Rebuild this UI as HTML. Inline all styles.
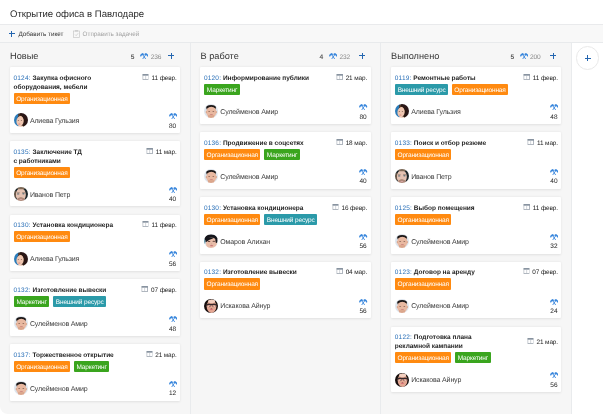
<!DOCTYPE html>
<html lang="ru"><head><meta charset="utf-8"><title>Открытие офиса в Павлодаре</title>
<style>
*{box-sizing:border-box;margin:0;padding:0}
html,body{width:603px;height:415px;overflow:hidden;background:#fff;font-family:"Liberation Sans",sans-serif;color:#222}
#app{will-change:transform;text-rendering:geometricPrecision;position:absolute;left:0;top:0;width:603px;height:414px;overflow:hidden;border-radius:0 0 0 8px}
.ttl{position:absolute;left:10px;top:7.8px;font-size:9.55px;line-height:13px;color:#2a2a2a;white-space:nowrap}
.bar{position:absolute;left:0;top:24px;width:603px;height:18.5px;background:#f8f8f8;border-top:1px solid #e9eaec;border-bottom:1px solid #e8eaec}
.bar span{position:absolute;top:0.7px;line-height:17px;font-size:6.3px;white-space:nowrap}
.plus{position:absolute;width:6.2px;height:6.2px}
.plus:before,.plus:after{content:"";position:absolute;background:#2466b0}
.plus:before{left:0;top:2.5px;width:6.2px;height:1.2px}
.plus:after{left:2.5px;top:0;width:1.2px;height:6.2px}
.col{position:absolute;top:42.5px;height:380px;width:190.5px;background:#f6f6f6;border-right:1px solid #e9ebed}
.ch{position:absolute;left:10px;top:7.9px;font-size:9.2px;line-height:12px;color:#333;white-space:nowrap}
.cn{position:absolute;top:10px;font-size:6.6px;letter-spacing:-0.25px;line-height:10px;color:#5c5c5c;white-space:nowrap;font-weight:bold}
.cp{position:absolute;top:10px;font-size:6.6px;letter-spacing:-0.25px;line-height:10px;color:#8a8a8a;white-space:nowrap}
.card{position:absolute;left:9.9px;width:170.3px;background:#fff;border-radius:1px;box-shadow:0 0.8px 2.5px rgba(0,0,0,.09)}
.t{position:absolute;left:3.6px;top:6.8px;font-size:6.5px;line-height:9px;font-weight:bold;color:#1e1e1e;white-space:nowrap;letter-spacing:-0.02px}
.t a{color:#2a70b8;font-weight:normal;text-decoration:none;letter-spacing:0.2px}
.d{position:absolute;right:3.5px;top:7.75px;font-size:6.4px;letter-spacing:-0.1px;line-height:8.8px;color:#222;white-space:nowrap}
.cal{display:inline-block;width:6.5px;height:5.9px;vertical-align:-0.5px;margin-right:3.1px;transform:translate(0.4px,-0.9px)}
.tags{position:absolute;left:4px;height:11.2px;white-space:nowrap}
.tag{position:absolute;top:0;height:11.2px;border-radius:1px;color:#fff;font-size:6.5px;letter-spacing:-0.15px;line-height:14.3px;text-align:center;white-space:nowrap;overflow:hidden}
.av{position:absolute;left:3.9px;width:14.2px;height:14.2px;border-radius:50%;overflow:hidden}
.n{position:absolute;left:20px;font-size:7px;letter-spacing:-0.14px;line-height:10px;color:#3a3a3a;white-space:nowrap}
.pi{position:absolute;right:3.1px;width:8.4px;height:6px}
.p{position:absolute;right:1.1px;width:13px;text-align:center;font-size:6.5px;line-height:8px;color:#222}
.circ{position:absolute;left:575.9px;top:46.4px;width:23.6px;height:23.6px;border-radius:50%;border:1px solid #e9e9e9;background:#fff}
</style></head><body><svg width="0" height="0" style="position:absolute"><defs><filter id="bl" x="-10%" y="-10%" width="120%" height="120%"><feGaussianBlur stdDeviation="0.7"/></filter></defs></svg><div id="app">
<div class="ttl">Открытие офиса в Павлодаре</div>
<div class="bar"><i class="plus" style="left:8.8px;top:5.6px"></i><span style="left:18.5px;color:#333">Добавить тикет</span>
<svg style="position:absolute;left:72.5px;top:4.5px;width:7px;height:8px" viewBox="0 0 14 16"><rect x="1" y="2" width="12" height="13" fill="none" stroke="#c8c8c8" stroke-width="1.4"/><rect x="4" y="0.5" width="6" height="2.5" fill="#c8c8c8"/><path d="M4 9 L6.3 11.3 L10.3 6.5" fill="none" stroke="#c4c4c4" stroke-width="1.3"/></svg>
<span style="left:82.6px;color:#a2a2a2">Отправить задачей</span></div>

<div class="col" style="left:0px"><div class="ch">Новые</div>
<span class="cn" style="left:130.7px">5</span><svg class="pi" style="left:139.9px;top:10.5px;right:auto" viewBox="0 0 84 60"><g fill="#3886dc"><path d="M0 31 L7 13 L24 0 L42 10 L33 26 L25 19 L17 25 L10 37 Z"/><path d="M84 31 L77 13 L60 0 L42 10 L51 26 L59 19 L67 25 L74 37 Z"/></g><g stroke="#3886dc" stroke-width="9" stroke-linecap="butt"><line x1="27" y1="60" x2="55" y2="20"/><line x1="57" y1="60" x2="29" y2="20"/></g></svg><span class="cp" style="left:150.8px">236</span><i class="plus" style="left:168.1px;top:10.3px"></i>
<div class="card" style="left:9.9px;top:24.8px;height:65.6px">
<div class="t"><a>0124:</a> Закупка офисного<br>оборудования, мебели</div>
<div class="d"><svg class="cal" viewBox="0 0 13 12"><rect x="0.7" y="0.7" width="11.6" height="10.6" fill="#fff" stroke="#949da8" stroke-width="1.5"/><rect x="0" y="0" width="13" height="3.2" fill="#84909d"/><line x1="6.5" y1="3" x2="6.5" y2="11" stroke="#aab1b9" stroke-width="1.1"/></svg>11 февр.</div>
<div class="tags" style="top:25.7px">
<span class="tag" style="left:0.0px;width:56px;background:#ff8a10">Организационная</span>
</div>
<div class="av" style="top:46.0px"><svg viewBox="0 0 28 28" width="100%" height="100%" style="display:block"><g filter="url(#bl)"><rect width="28" height="28" fill="#2a7cba"/><ellipse cx="19" cy="14" rx="12.5" ry="15" fill="#2a1912"/><ellipse cx="15" cy="3.6" rx="7" ry="3.4" fill="#553422"/><ellipse cx="12" cy="16" rx="7.2" ry="10" fill="#efc6b0" transform="rotate(8 12 16)"/><ellipse cx="13" cy="27" rx="5.5" ry="3" fill="#f3d3c2"/><ellipse cx="10.6" cy="21.8" rx="2.4" ry="1.1" fill="#d9837c"/><ellipse cx="8.6" cy="14.5" rx="1.4" ry=".7" fill="#5a4038"/><ellipse cx="14.6" cy="14.9" rx="1.4" ry=".7" fill="#5a4038"/><path d="M12 5 Q20 6 21 18 Q22 24 18 27 L28 27 L28 0 L12 0 Z" fill="#2a1912"/></g></svg></div>
<div class="n" style="top:49.7px">Алиева Гульзия</div>
<svg class="pi" style="top:45.9px" viewBox="0 0 84 60"><g fill="#3886dc"><path d="M0 31 L7 13 L24 0 L42 10 L33 26 L25 19 L17 25 L10 37 Z"/><path d="M84 31 L77 13 L60 0 L42 10 L51 26 L59 19 L67 25 L74 37 Z"/></g><g stroke="#3886dc" stroke-width="9" stroke-linecap="butt"><line x1="27" y1="60" x2="55" y2="20"/><line x1="57" y1="60" x2="29" y2="20"/></g></svg>
<div class="p" style="top:55.4px">80</div>
</div>
<div class="card" style="left:9.9px;top:98.4px;height:65.6px">
<div class="t"><a>0135:</a> Заключение ТД<br>с работниками</div>
<div class="d"><svg class="cal" viewBox="0 0 13 12"><rect x="0.7" y="0.7" width="11.6" height="10.6" fill="#fff" stroke="#949da8" stroke-width="1.5"/><rect x="0" y="0" width="13" height="3.2" fill="#84909d"/><line x1="6.5" y1="3" x2="6.5" y2="11" stroke="#aab1b9" stroke-width="1.1"/></svg>11 мар.</div>
<div class="tags" style="top:25.7px">
<span class="tag" style="left:0.0px;width:56px;background:#ff8a10">Организационная</span>
</div>
<div class="av" style="top:46.0px"><svg viewBox="0 0 28 28" width="100%" height="100%" style="display:block"><g filter="url(#bl)"><rect width="28" height="28" fill="#1a2529"/><ellipse cx="13.4" cy="15.5" rx="10" ry="13.2" fill="#e4c2b2"/><ellipse cx="14" cy="2.2" rx="8" ry="2.4" fill="#7d6854"/><ellipse cx="2.2" cy="15" rx="1.8" ry="8" fill="#6e5a48"/><ellipse cx="13.6" cy="25" rx="7.5" ry="4.2" fill="#ad8878"/><ellipse cx="13.6" cy="24.4" rx="3" ry="1.4" fill="#d8a6a6"/><ellipse cx="8.2" cy="13.6" rx="2.5" ry="1.4" fill="#66757d"/><ellipse cx="18.6" cy="13.4" rx="2.5" ry="1.4" fill="#66757d"/><rect x="5.6" y="11" width="5.6" height="1" fill="#7a6658"/><rect x="16" y="10.8" width="5.6" height="1" fill="#7a6658"/><ellipse cx="13.4" cy="21.4" rx="3.6" ry=".9" fill="#9a7868"/></g></svg></div>
<div class="n" style="top:49.7px">Иванов Петр</div>
<svg class="pi" style="top:45.9px" viewBox="0 0 84 60"><g fill="#3886dc"><path d="M0 31 L7 13 L24 0 L42 10 L33 26 L25 19 L17 25 L10 37 Z"/><path d="M84 31 L77 13 L60 0 L42 10 L51 26 L59 19 L67 25 L74 37 Z"/></g><g stroke="#3886dc" stroke-width="9" stroke-linecap="butt"><line x1="27" y1="60" x2="55" y2="20"/><line x1="57" y1="60" x2="29" y2="20"/></g></svg>
<div class="p" style="top:55.4px">40</div>
</div>
<div class="card" style="left:9.9px;top:172.0px;height:56.8px">
<div class="t"><a>0130:</a> Установка кондиционера</div>
<div class="d"><svg class="cal" viewBox="0 0 13 12"><rect x="0.7" y="0.7" width="11.6" height="10.6" fill="#fff" stroke="#949da8" stroke-width="1.5"/><rect x="0" y="0" width="13" height="3.2" fill="#84909d"/><line x1="6.5" y1="3" x2="6.5" y2="11" stroke="#aab1b9" stroke-width="1.1"/></svg>11 февр.</div>
<div class="tags" style="top:16.7px">
<span class="tag" style="left:0.0px;width:56px;background:#ff8a10">Организационная</span>
</div>
<div class="av" style="top:37.0px"><svg viewBox="0 0 28 28" width="100%" height="100%" style="display:block"><g filter="url(#bl)"><rect width="28" height="28" fill="#2a7cba"/><ellipse cx="19" cy="14" rx="12.5" ry="15" fill="#2a1912"/><ellipse cx="15" cy="3.6" rx="7" ry="3.4" fill="#553422"/><ellipse cx="12" cy="16" rx="7.2" ry="10" fill="#efc6b0" transform="rotate(8 12 16)"/><ellipse cx="13" cy="27" rx="5.5" ry="3" fill="#f3d3c2"/><ellipse cx="10.6" cy="21.8" rx="2.4" ry="1.1" fill="#d9837c"/><ellipse cx="8.6" cy="14.5" rx="1.4" ry=".7" fill="#5a4038"/><ellipse cx="14.6" cy="14.9" rx="1.4" ry=".7" fill="#5a4038"/><path d="M12 5 Q20 6 21 18 Q22 24 18 27 L28 27 L28 0 L12 0 Z" fill="#2a1912"/></g></svg></div>
<div class="n" style="top:40.7px">Алиева Гульзия</div>
<svg class="pi" style="top:36.9px" viewBox="0 0 84 60"><g fill="#3886dc"><path d="M0 31 L7 13 L24 0 L42 10 L33 26 L25 19 L17 25 L10 37 Z"/><path d="M84 31 L77 13 L60 0 L42 10 L51 26 L59 19 L67 25 L74 37 Z"/></g><g stroke="#3886dc" stroke-width="9" stroke-linecap="butt"><line x1="27" y1="60" x2="55" y2="20"/><line x1="57" y1="60" x2="29" y2="20"/></g></svg>
<div class="p" style="top:46.4px">56</div>
</div>
<div class="card" style="left:9.9px;top:236.8px;height:56.8px">
<div class="t"><a>0132:</a> Изготовление вывески</div>
<div class="d"><svg class="cal" viewBox="0 0 13 12"><rect x="0.7" y="0.7" width="11.6" height="10.6" fill="#fff" stroke="#949da8" stroke-width="1.5"/><rect x="0" y="0" width="13" height="3.2" fill="#84909d"/><line x1="6.5" y1="3" x2="6.5" y2="11" stroke="#aab1b9" stroke-width="1.1"/></svg>07 февр.</div>
<div class="tags" style="top:16.7px">
<span class="tag" style="left:0.0px;width:35.4px;background:#3aa51e">Маркетинг</span>
<span class="tag" style="left:39.4px;width:52.8px;background:#2b9aa9">Внешний ресурс</span>
</div>
<div class="av" style="top:37.0px"><svg viewBox="0 0 28 28" width="100%" height="100%" style="display:block"><g filter="url(#bl)"><rect width="28" height="28" fill="#dde4ec"/><ellipse cx="14" cy="7.6" rx="9.6" ry="5.6" fill="#1c1818"/><ellipse cx="14.4" cy="16" rx="10" ry="10.6" fill="#e9b9a1"/><ellipse cx="14.4" cy="9.2" rx="7" ry="3" fill="#e9b9a1"/><rect x="8" y="22" width="12" height="8" fill="#dba68c"/><ellipse cx="10.2" cy="14.6" rx="2" ry=".9" fill="#6a4a3e"/><ellipse cx="18.4" cy="14.6" rx="2" ry=".9" fill="#6a4a3e"/><ellipse cx="14.5" cy="20.6" rx="3.4" ry="1.1" fill="#cf8a82"/><ellipse cx="4.6" cy="16" rx="1.2" ry="2.4" fill="#d9a389"/><ellipse cx="24.2" cy="16" rx="1.2" ry="2.4" fill="#d9a389"/></g></svg></div>
<div class="n" style="top:40.7px">Сулейменов Амир</div>
<svg class="pi" style="top:36.9px" viewBox="0 0 84 60"><g fill="#3886dc"><path d="M0 31 L7 13 L24 0 L42 10 L33 26 L25 19 L17 25 L10 37 Z"/><path d="M84 31 L77 13 L60 0 L42 10 L51 26 L59 19 L67 25 L74 37 Z"/></g><g stroke="#3886dc" stroke-width="9" stroke-linecap="butt"><line x1="27" y1="60" x2="55" y2="20"/><line x1="57" y1="60" x2="29" y2="20"/></g></svg>
<div class="p" style="top:46.4px">48</div>
</div>
<div class="card" style="left:9.9px;top:301.6px;height:56.8px">
<div class="t"><a>0137:</a> Торжественное открытие</div>
<div class="d"><svg class="cal" viewBox="0 0 13 12"><rect x="0.7" y="0.7" width="11.6" height="10.6" fill="#fff" stroke="#949da8" stroke-width="1.5"/><rect x="0" y="0" width="13" height="3.2" fill="#84909d"/><line x1="6.5" y1="3" x2="6.5" y2="11" stroke="#aab1b9" stroke-width="1.1"/></svg>21 мар.</div>
<div class="tags" style="top:16.7px">
<span class="tag" style="left:0.0px;width:56px;background:#ff8a10">Организационная</span>
<span class="tag" style="left:60.0px;width:35.4px;background:#3aa51e">Маркетинг</span>
</div>
<div class="av" style="top:37.0px"><svg viewBox="0 0 28 28" width="100%" height="100%" style="display:block"><g filter="url(#bl)"><rect width="28" height="28" fill="#dde4ec"/><ellipse cx="14" cy="7.6" rx="9.6" ry="5.6" fill="#1c1818"/><ellipse cx="14.4" cy="16" rx="10" ry="10.6" fill="#e9b9a1"/><ellipse cx="14.4" cy="9.2" rx="7" ry="3" fill="#e9b9a1"/><rect x="8" y="22" width="12" height="8" fill="#dba68c"/><ellipse cx="10.2" cy="14.6" rx="2" ry=".9" fill="#6a4a3e"/><ellipse cx="18.4" cy="14.6" rx="2" ry=".9" fill="#6a4a3e"/><ellipse cx="14.5" cy="20.6" rx="3.4" ry="1.1" fill="#cf8a82"/><ellipse cx="4.6" cy="16" rx="1.2" ry="2.4" fill="#d9a389"/><ellipse cx="24.2" cy="16" rx="1.2" ry="2.4" fill="#d9a389"/></g></svg></div>
<div class="n" style="top:40.7px">Сулейменов Амир</div>
<svg class="pi" style="top:36.9px" viewBox="0 0 84 60"><g fill="#3886dc"><path d="M0 31 L7 13 L24 0 L42 10 L33 26 L25 19 L17 25 L10 37 Z"/><path d="M84 31 L77 13 L60 0 L42 10 L51 26 L59 19 L67 25 L74 37 Z"/></g><g stroke="#3886dc" stroke-width="9" stroke-linecap="butt"><line x1="27" y1="60" x2="55" y2="20"/><line x1="57" y1="60" x2="29" y2="20"/></g></svg>
<div class="p" style="top:46.4px">12</div>
</div>
</div>
<div class="col" style="left:190.5px"><div class="ch">В работе</div>
<span class="cn" style="left:129.0px">4</span><svg class="pi" style="left:138.4px;top:10.5px;right:auto" viewBox="0 0 84 60"><g fill="#3886dc"><path d="M0 31 L7 13 L24 0 L42 10 L33 26 L25 19 L17 25 L10 37 Z"/><path d="M84 31 L77 13 L60 0 L42 10 L51 26 L59 19 L67 25 L74 37 Z"/></g><g stroke="#3886dc" stroke-width="9" stroke-linecap="butt"><line x1="27" y1="60" x2="55" y2="20"/><line x1="57" y1="60" x2="29" y2="20"/></g></svg><span class="cp" style="left:149.1px">232</span><i class="plus" style="left:168.6px;top:10.3px"></i>
<div class="card" style="left:9.8px;top:24.8px;height:56.8px">
<div class="t"><a>0120:</a> Информирование публики</div>
<div class="d"><svg class="cal" viewBox="0 0 13 12"><rect x="0.7" y="0.7" width="11.6" height="10.6" fill="#fff" stroke="#949da8" stroke-width="1.5"/><rect x="0" y="0" width="13" height="3.2" fill="#84909d"/><line x1="6.5" y1="3" x2="6.5" y2="11" stroke="#aab1b9" stroke-width="1.1"/></svg>21 мар.</div>
<div class="tags" style="top:16.7px">
<span class="tag" style="left:0.0px;width:35.4px;background:#3aa51e">Маркетинг</span>
</div>
<div class="av" style="top:37.0px"><svg viewBox="0 0 28 28" width="100%" height="100%" style="display:block"><g filter="url(#bl)"><rect width="28" height="28" fill="#dde4ec"/><ellipse cx="14" cy="7.6" rx="9.6" ry="5.6" fill="#1c1818"/><ellipse cx="14.4" cy="16" rx="10" ry="10.6" fill="#e9b9a1"/><ellipse cx="14.4" cy="9.2" rx="7" ry="3" fill="#e9b9a1"/><rect x="8" y="22" width="12" height="8" fill="#dba68c"/><ellipse cx="10.2" cy="14.6" rx="2" ry=".9" fill="#6a4a3e"/><ellipse cx="18.4" cy="14.6" rx="2" ry=".9" fill="#6a4a3e"/><ellipse cx="14.5" cy="20.6" rx="3.4" ry="1.1" fill="#cf8a82"/><ellipse cx="4.6" cy="16" rx="1.2" ry="2.4" fill="#d9a389"/><ellipse cx="24.2" cy="16" rx="1.2" ry="2.4" fill="#d9a389"/></g></svg></div>
<div class="n" style="top:40.7px">Сулейменов Амир</div>
<svg class="pi" style="top:36.9px" viewBox="0 0 84 60"><g fill="#3886dc"><path d="M0 31 L7 13 L24 0 L42 10 L33 26 L25 19 L17 25 L10 37 Z"/><path d="M84 31 L77 13 L60 0 L42 10 L51 26 L59 19 L67 25 L74 37 Z"/></g><g stroke="#3886dc" stroke-width="9" stroke-linecap="butt"><line x1="27" y1="60" x2="55" y2="20"/><line x1="57" y1="60" x2="29" y2="20"/></g></svg>
<div class="p" style="top:46.4px">80</div>
</div>
<div class="card" style="left:9.8px;top:89.6px;height:56.8px">
<div class="t"><a>0136:</a> Продвижение в соцсетях</div>
<div class="d"><svg class="cal" viewBox="0 0 13 12"><rect x="0.7" y="0.7" width="11.6" height="10.6" fill="#fff" stroke="#949da8" stroke-width="1.5"/><rect x="0" y="0" width="13" height="3.2" fill="#84909d"/><line x1="6.5" y1="3" x2="6.5" y2="11" stroke="#aab1b9" stroke-width="1.1"/></svg>18 мар.</div>
<div class="tags" style="top:16.7px">
<span class="tag" style="left:0.0px;width:56px;background:#ff8a10">Организационная</span>
<span class="tag" style="left:60.0px;width:35.4px;background:#3aa51e">Маркетинг</span>
</div>
<div class="av" style="top:37.0px"><svg viewBox="0 0 28 28" width="100%" height="100%" style="display:block"><g filter="url(#bl)"><rect width="28" height="28" fill="#dde4ec"/><ellipse cx="14" cy="7.6" rx="9.6" ry="5.6" fill="#1c1818"/><ellipse cx="14.4" cy="16" rx="10" ry="10.6" fill="#e9b9a1"/><ellipse cx="14.4" cy="9.2" rx="7" ry="3" fill="#e9b9a1"/><rect x="8" y="22" width="12" height="8" fill="#dba68c"/><ellipse cx="10.2" cy="14.6" rx="2" ry=".9" fill="#6a4a3e"/><ellipse cx="18.4" cy="14.6" rx="2" ry=".9" fill="#6a4a3e"/><ellipse cx="14.5" cy="20.6" rx="3.4" ry="1.1" fill="#cf8a82"/><ellipse cx="4.6" cy="16" rx="1.2" ry="2.4" fill="#d9a389"/><ellipse cx="24.2" cy="16" rx="1.2" ry="2.4" fill="#d9a389"/></g></svg></div>
<div class="n" style="top:40.7px">Сулейменов Амир</div>
<svg class="pi" style="top:36.9px" viewBox="0 0 84 60"><g fill="#3886dc"><path d="M0 31 L7 13 L24 0 L42 10 L33 26 L25 19 L17 25 L10 37 Z"/><path d="M84 31 L77 13 L60 0 L42 10 L51 26 L59 19 L67 25 L74 37 Z"/></g><g stroke="#3886dc" stroke-width="9" stroke-linecap="butt"><line x1="27" y1="60" x2="55" y2="20"/><line x1="57" y1="60" x2="29" y2="20"/></g></svg>
<div class="p" style="top:46.4px">40</div>
</div>
<div class="card" style="left:9.8px;top:154.4px;height:56.8px">
<div class="t"><a>0130:</a> Установка кондиционера</div>
<div class="d"><svg class="cal" viewBox="0 0 13 12"><rect x="0.7" y="0.7" width="11.6" height="10.6" fill="#fff" stroke="#949da8" stroke-width="1.5"/><rect x="0" y="0" width="13" height="3.2" fill="#84909d"/><line x1="6.5" y1="3" x2="6.5" y2="11" stroke="#aab1b9" stroke-width="1.1"/></svg>16 февр.</div>
<div class="tags" style="top:16.7px">
<span class="tag" style="left:0.0px;width:56px;background:#ff8a10">Организационная</span>
<span class="tag" style="left:60.0px;width:52.8px;background:#2b9aa9">Внешний ресурс</span>
</div>
<div class="av" style="top:37.0px"><svg viewBox="0 0 28 28" width="100%" height="100%" style="display:block"><g filter="url(#bl)"><rect width="28" height="28" fill="#e6ecf1"/><rect x="0" y="9" width="2.6" height="10" fill="#5f93a6"/><ellipse cx="14" cy="8.4" rx="13.2" ry="7.4" fill="#15161c"/><ellipse cx="14.6" cy="18.2" rx="10.8" ry="12" fill="#e9bda9"/><path d="M3 12 L9 6.5 L21 7 L16 9.4 L10 11.6 L6 15 L3 16.5 Z" fill="#15161c"/><ellipse cx="24.6" cy="13" rx="2" ry="5" fill="#12131a"/><ellipse cx="10" cy="14.8" rx="2.6" ry="1.1" fill="#5a3c34"/><ellipse cx="19.4" cy="14.4" rx="2.6" ry="1.1" fill="#5a3c34"/><ellipse cx="15" cy="23" rx="3.2" ry="1.2" fill="#c9787a"/><ellipse cx="14.6" cy="19.6" rx="1.6" ry=".8" fill="#c99884"/></g></svg></div>
<div class="n" style="top:40.7px">Омаров Алихан</div>
<svg class="pi" style="top:36.9px" viewBox="0 0 84 60"><g fill="#3886dc"><path d="M0 31 L7 13 L24 0 L42 10 L33 26 L25 19 L17 25 L10 37 Z"/><path d="M84 31 L77 13 L60 0 L42 10 L51 26 L59 19 L67 25 L74 37 Z"/></g><g stroke="#3886dc" stroke-width="9" stroke-linecap="butt"><line x1="27" y1="60" x2="55" y2="20"/><line x1="57" y1="60" x2="29" y2="20"/></g></svg>
<div class="p" style="top:46.4px">56</div>
</div>
<div class="card" style="left:9.8px;top:219.2px;height:56.8px">
<div class="t"><a>0132:</a> Изготовление вывески</div>
<div class="d"><svg class="cal" viewBox="0 0 13 12"><rect x="0.7" y="0.7" width="11.6" height="10.6" fill="#fff" stroke="#949da8" stroke-width="1.5"/><rect x="0" y="0" width="13" height="3.2" fill="#84909d"/><line x1="6.5" y1="3" x2="6.5" y2="11" stroke="#aab1b9" stroke-width="1.1"/></svg>04 мар.</div>
<div class="tags" style="top:16.7px">
<span class="tag" style="left:0.0px;width:56px;background:#ff8a10">Организационная</span>
</div>
<div class="av" style="top:37.0px"><svg viewBox="0 0 28 28" width="100%" height="100%" style="display:block"><g filter="url(#bl)"><rect width="28" height="28" fill="#19110f"/><ellipse cx="14.8" cy="14.5" rx="9.6" ry="13" fill="#e4a692"/><ellipse cx="15" cy="4.5" rx="7" ry="3.6" fill="#f4d0c0"/><rect x="4.5" y="9.6" width="20" height="2.4" fill="#33262a"/><ellipse cx="9.8" cy="12.5" rx="3.6" ry="2.8" fill="none" stroke="#3a2c2e" stroke-width="1.2"/><ellipse cx="19.8" cy="12.5" rx="3.6" ry="2.8" fill="none" stroke="#3a2c2e" stroke-width="1.2"/><ellipse cx="8.5" cy="15" rx="2.4" ry="1.4" fill="#f1c3b4"/><ellipse cx="20.5" cy="15" rx="2.4" ry="1.4" fill="#f1c3b4"/><ellipse cx="14.6" cy="20.4" rx="3.2" ry="1.4" fill="#d96a74"/><ellipse cx="14.6" cy="18.4" rx="2" ry=".8" fill="#8a5a50"/></g></svg></div>
<div class="n" style="top:40.7px">Искакова Айнур</div>
<svg class="pi" style="top:36.9px" viewBox="0 0 84 60"><g fill="#3886dc"><path d="M0 31 L7 13 L24 0 L42 10 L33 26 L25 19 L17 25 L10 37 Z"/><path d="M84 31 L77 13 L60 0 L42 10 L51 26 L59 19 L67 25 L74 37 Z"/></g><g stroke="#3886dc" stroke-width="9" stroke-linecap="butt"><line x1="27" y1="60" x2="55" y2="20"/><line x1="57" y1="60" x2="29" y2="20"/></g></svg>
<div class="p" style="top:46.4px">56</div>
</div>
</div>
<div class="col" style="left:381px"><div class="ch">Выполнено</div>
<span class="cn" style="left:129.5px">5</span><svg class="pi" style="left:138.9px;top:10.5px;right:auto" viewBox="0 0 84 60"><g fill="#3886dc"><path d="M0 31 L7 13 L24 0 L42 10 L33 26 L25 19 L17 25 L10 37 Z"/><path d="M84 31 L77 13 L60 0 L42 10 L51 26 L59 19 L67 25 L74 37 Z"/></g><g stroke="#3886dc" stroke-width="9" stroke-linecap="butt"><line x1="27" y1="60" x2="55" y2="20"/><line x1="57" y1="60" x2="29" y2="20"/></g></svg><span class="cp" style="left:149.1px">200</span><i class="plus" style="left:169.0px;top:10.3px"></i>
<div class="card" style="left:10.2px;top:24.8px;height:56.8px">
<div class="t"><a>0119:</a> Ремонтные работы</div>
<div class="d"><svg class="cal" viewBox="0 0 13 12"><rect x="0.7" y="0.7" width="11.6" height="10.6" fill="#fff" stroke="#949da8" stroke-width="1.5"/><rect x="0" y="0" width="13" height="3.2" fill="#84909d"/><line x1="6.5" y1="3" x2="6.5" y2="11" stroke="#aab1b9" stroke-width="1.1"/></svg>11 февр.</div>
<div class="tags" style="top:16.7px">
<span class="tag" style="left:0.0px;width:52.8px;background:#2b9aa9">Внешний ресурс</span>
<span class="tag" style="left:56.8px;width:56px;background:#ff8a10">Организационная</span>
</div>
<div class="av" style="top:37.0px"><svg viewBox="0 0 28 28" width="100%" height="100%" style="display:block"><g filter="url(#bl)"><rect width="28" height="28" fill="#2a7cba"/><ellipse cx="19" cy="14" rx="12.5" ry="15" fill="#2a1912"/><ellipse cx="15" cy="3.6" rx="7" ry="3.4" fill="#553422"/><ellipse cx="12" cy="16" rx="7.2" ry="10" fill="#efc6b0" transform="rotate(8 12 16)"/><ellipse cx="13" cy="27" rx="5.5" ry="3" fill="#f3d3c2"/><ellipse cx="10.6" cy="21.8" rx="2.4" ry="1.1" fill="#d9837c"/><ellipse cx="8.6" cy="14.5" rx="1.4" ry=".7" fill="#5a4038"/><ellipse cx="14.6" cy="14.9" rx="1.4" ry=".7" fill="#5a4038"/><path d="M12 5 Q20 6 21 18 Q22 24 18 27 L28 27 L28 0 L12 0 Z" fill="#2a1912"/></g></svg></div>
<div class="n" style="top:40.7px">Алиева Гульзия</div>
<svg class="pi" style="top:36.9px" viewBox="0 0 84 60"><g fill="#3886dc"><path d="M0 31 L7 13 L24 0 L42 10 L33 26 L25 19 L17 25 L10 37 Z"/><path d="M84 31 L77 13 L60 0 L42 10 L51 26 L59 19 L67 25 L74 37 Z"/></g><g stroke="#3886dc" stroke-width="9" stroke-linecap="butt"><line x1="27" y1="60" x2="55" y2="20"/><line x1="57" y1="60" x2="29" y2="20"/></g></svg>
<div class="p" style="top:46.4px">48</div>
</div>
<div class="card" style="left:10.2px;top:89.6px;height:56.8px">
<div class="t"><a>0133:</a> Поиск и отбор резюме</div>
<div class="d"><svg class="cal" viewBox="0 0 13 12"><rect x="0.7" y="0.7" width="11.6" height="10.6" fill="#fff" stroke="#949da8" stroke-width="1.5"/><rect x="0" y="0" width="13" height="3.2" fill="#84909d"/><line x1="6.5" y1="3" x2="6.5" y2="11" stroke="#aab1b9" stroke-width="1.1"/></svg>11 мар.</div>
<div class="tags" style="top:16.7px">
<span class="tag" style="left:0.0px;width:56px;background:#ff8a10">Организационная</span>
</div>
<div class="av" style="top:37.0px"><svg viewBox="0 0 28 28" width="100%" height="100%" style="display:block"><g filter="url(#bl)"><rect width="28" height="28" fill="#1a2529"/><ellipse cx="13.4" cy="15.5" rx="10" ry="13.2" fill="#e4c2b2"/><ellipse cx="14" cy="2.2" rx="8" ry="2.4" fill="#7d6854"/><ellipse cx="2.2" cy="15" rx="1.8" ry="8" fill="#6e5a48"/><ellipse cx="13.6" cy="25" rx="7.5" ry="4.2" fill="#ad8878"/><ellipse cx="13.6" cy="24.4" rx="3" ry="1.4" fill="#d8a6a6"/><ellipse cx="8.2" cy="13.6" rx="2.5" ry="1.4" fill="#66757d"/><ellipse cx="18.6" cy="13.4" rx="2.5" ry="1.4" fill="#66757d"/><rect x="5.6" y="11" width="5.6" height="1" fill="#7a6658"/><rect x="16" y="10.8" width="5.6" height="1" fill="#7a6658"/><ellipse cx="13.4" cy="21.4" rx="3.6" ry=".9" fill="#9a7868"/></g></svg></div>
<div class="n" style="top:40.7px">Иванов Петр</div>
<svg class="pi" style="top:36.9px" viewBox="0 0 84 60"><g fill="#3886dc"><path d="M0 31 L7 13 L24 0 L42 10 L33 26 L25 19 L17 25 L10 37 Z"/><path d="M84 31 L77 13 L60 0 L42 10 L51 26 L59 19 L67 25 L74 37 Z"/></g><g stroke="#3886dc" stroke-width="9" stroke-linecap="butt"><line x1="27" y1="60" x2="55" y2="20"/><line x1="57" y1="60" x2="29" y2="20"/></g></svg>
<div class="p" style="top:46.4px">40</div>
</div>
<div class="card" style="left:10.2px;top:154.4px;height:56.8px">
<div class="t"><a>0125:</a> Выбор помещения</div>
<div class="d"><svg class="cal" viewBox="0 0 13 12"><rect x="0.7" y="0.7" width="11.6" height="10.6" fill="#fff" stroke="#949da8" stroke-width="1.5"/><rect x="0" y="0" width="13" height="3.2" fill="#84909d"/><line x1="6.5" y1="3" x2="6.5" y2="11" stroke="#aab1b9" stroke-width="1.1"/></svg>11 февр.</div>
<div class="tags" style="top:16.7px">
<span class="tag" style="left:0.0px;width:56px;background:#ff8a10">Организационная</span>
</div>
<div class="av" style="top:37.0px"><svg viewBox="0 0 28 28" width="100%" height="100%" style="display:block"><g filter="url(#bl)"><rect width="28" height="28" fill="#dde4ec"/><ellipse cx="14" cy="7.6" rx="9.6" ry="5.6" fill="#1c1818"/><ellipse cx="14.4" cy="16" rx="10" ry="10.6" fill="#e9b9a1"/><ellipse cx="14.4" cy="9.2" rx="7" ry="3" fill="#e9b9a1"/><rect x="8" y="22" width="12" height="8" fill="#dba68c"/><ellipse cx="10.2" cy="14.6" rx="2" ry=".9" fill="#6a4a3e"/><ellipse cx="18.4" cy="14.6" rx="2" ry=".9" fill="#6a4a3e"/><ellipse cx="14.5" cy="20.6" rx="3.4" ry="1.1" fill="#cf8a82"/><ellipse cx="4.6" cy="16" rx="1.2" ry="2.4" fill="#d9a389"/><ellipse cx="24.2" cy="16" rx="1.2" ry="2.4" fill="#d9a389"/></g></svg></div>
<div class="n" style="top:40.7px">Сулейменов Амир</div>
<svg class="pi" style="top:36.9px" viewBox="0 0 84 60"><g fill="#3886dc"><path d="M0 31 L7 13 L24 0 L42 10 L33 26 L25 19 L17 25 L10 37 Z"/><path d="M84 31 L77 13 L60 0 L42 10 L51 26 L59 19 L67 25 L74 37 Z"/></g><g stroke="#3886dc" stroke-width="9" stroke-linecap="butt"><line x1="27" y1="60" x2="55" y2="20"/><line x1="57" y1="60" x2="29" y2="20"/></g></svg>
<div class="p" style="top:46.4px">32</div>
</div>
<div class="card" style="left:10.2px;top:219.2px;height:56.8px">
<div class="t"><a>0123:</a> Договор на аренду</div>
<div class="d"><svg class="cal" viewBox="0 0 13 12"><rect x="0.7" y="0.7" width="11.6" height="10.6" fill="#fff" stroke="#949da8" stroke-width="1.5"/><rect x="0" y="0" width="13" height="3.2" fill="#84909d"/><line x1="6.5" y1="3" x2="6.5" y2="11" stroke="#aab1b9" stroke-width="1.1"/></svg>07 февр.</div>
<div class="tags" style="top:16.7px">
<span class="tag" style="left:0.0px;width:56px;background:#ff8a10">Организационная</span>
</div>
<div class="av" style="top:37.0px"><svg viewBox="0 0 28 28" width="100%" height="100%" style="display:block"><g filter="url(#bl)"><rect width="28" height="28" fill="#dde4ec"/><ellipse cx="14" cy="7.6" rx="9.6" ry="5.6" fill="#1c1818"/><ellipse cx="14.4" cy="16" rx="10" ry="10.6" fill="#e9b9a1"/><ellipse cx="14.4" cy="9.2" rx="7" ry="3" fill="#e9b9a1"/><rect x="8" y="22" width="12" height="8" fill="#dba68c"/><ellipse cx="10.2" cy="14.6" rx="2" ry=".9" fill="#6a4a3e"/><ellipse cx="18.4" cy="14.6" rx="2" ry=".9" fill="#6a4a3e"/><ellipse cx="14.5" cy="20.6" rx="3.4" ry="1.1" fill="#cf8a82"/><ellipse cx="4.6" cy="16" rx="1.2" ry="2.4" fill="#d9a389"/><ellipse cx="24.2" cy="16" rx="1.2" ry="2.4" fill="#d9a389"/></g></svg></div>
<div class="n" style="top:40.7px">Сулейменов Амир</div>
<svg class="pi" style="top:36.9px" viewBox="0 0 84 60"><g fill="#3886dc"><path d="M0 31 L7 13 L24 0 L42 10 L33 26 L25 19 L17 25 L10 37 Z"/><path d="M84 31 L77 13 L60 0 L42 10 L51 26 L59 19 L67 25 L74 37 Z"/></g><g stroke="#3886dc" stroke-width="9" stroke-linecap="butt"><line x1="27" y1="60" x2="55" y2="20"/><line x1="57" y1="60" x2="29" y2="20"/></g></svg>
<div class="p" style="top:46.4px">24</div>
</div>
<div class="card" style="left:10.2px;top:284.0px;height:65.6px">
<div class="t"><a>0122:</a> Подготовка плана<br>рекламной кампании</div>
<div class="d" style="top:12.3px"><svg class="cal" viewBox="0 0 13 12"><rect x="0.7" y="0.7" width="11.6" height="10.6" fill="#fff" stroke="#949da8" stroke-width="1.5"/><rect x="0" y="0" width="13" height="3.2" fill="#84909d"/><line x1="6.5" y1="3" x2="6.5" y2="11" stroke="#aab1b9" stroke-width="1.1"/></svg>21 мар.</div>
<div class="tags" style="top:25.7px">
<span class="tag" style="left:0.0px;width:56px;background:#ff8a10">Организационная</span>
<span class="tag" style="left:60.0px;width:35.4px;background:#3aa51e">Маркетинг</span>
</div>
<div class="av" style="top:46.0px"><svg viewBox="0 0 28 28" width="100%" height="100%" style="display:block"><g filter="url(#bl)"><rect width="28" height="28" fill="#19110f"/><ellipse cx="14.8" cy="14.5" rx="9.6" ry="13" fill="#e4a692"/><ellipse cx="15" cy="4.5" rx="7" ry="3.6" fill="#f4d0c0"/><rect x="4.5" y="9.6" width="20" height="2.4" fill="#33262a"/><ellipse cx="9.8" cy="12.5" rx="3.6" ry="2.8" fill="none" stroke="#3a2c2e" stroke-width="1.2"/><ellipse cx="19.8" cy="12.5" rx="3.6" ry="2.8" fill="none" stroke="#3a2c2e" stroke-width="1.2"/><ellipse cx="8.5" cy="15" rx="2.4" ry="1.4" fill="#f1c3b4"/><ellipse cx="20.5" cy="15" rx="2.4" ry="1.4" fill="#f1c3b4"/><ellipse cx="14.6" cy="20.4" rx="3.2" ry="1.4" fill="#d96a74"/><ellipse cx="14.6" cy="18.4" rx="2" ry=".8" fill="#8a5a50"/></g></svg></div>
<div class="n" style="top:49.7px">Искакова Айнур</div>
<svg class="pi" style="top:45.9px" viewBox="0 0 84 60"><g fill="#3886dc"><path d="M0 31 L7 13 L24 0 L42 10 L33 26 L25 19 L17 25 L10 37 Z"/><path d="M84 31 L77 13 L60 0 L42 10 L51 26 L59 19 L67 25 L74 37 Z"/></g><g stroke="#3886dc" stroke-width="9" stroke-linecap="butt"><line x1="27" y1="60" x2="55" y2="20"/><line x1="57" y1="60" x2="29" y2="20"/></g></svg>
<div class="p" style="top:55.4px">56</div>
</div>
</div>
<div class="circ"><i class="plus" style="left:7.7px;top:7.7px"></i></div>
</div></body></html>
